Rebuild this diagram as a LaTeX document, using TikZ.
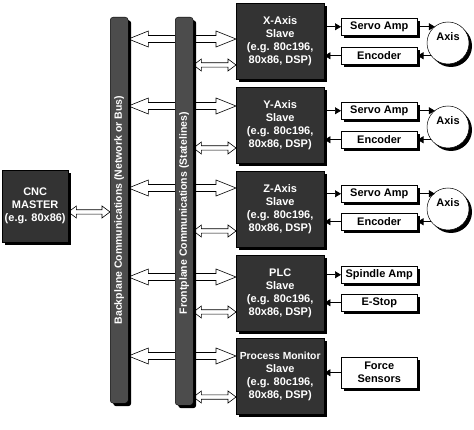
\documentclass[tikz,border=0pt]{standalone}
\usepackage{fontspec}
\setmainfont{Liberation Sans}
\usetikzlibrary{calc,shadows,arrows.meta,backgrounds}
\definecolor{boxgray}{HTML}{333333}
\definecolor{bargray}{HTML}{4C4C4C}
\begin{document}
\begin{tikzpicture}[x=1pt,y=-1pt,
  every node/.style={font=\bfseries\fontsize{11}{13}\selectfont},
  bartext/.style={rotate=90,text=white,font=\bfseries\fontsize{10.5}{12}\selectfont},
  shad/.style={general shadow={fill=black,shadow xshift=3pt,shadow yshift=-3pt}},
  darkbox/.style={shad,rectangle,fill=boxgray,draw=black,line width=0.4pt,text=white,align=center,inner sep=0pt,anchor=north west,minimum width=88pt,minimum height=76pt},
  bar/.style={shad,rectangle,fill=bargray,draw=black,line width=0.4pt,inner sep=0pt,anchor=north west,minimum width=18pt,rounded corners=3pt},
  wbox/.style={shad,rectangle,fill=white,draw=black,line width=0.5pt,align=center,inner sep=0pt,anchor=north west,minimum width=76pt,minimum height=17pt},
  axisc/.style={shad,circle,fill=white,draw=black,line width=0.5pt,minimum size=42pt,inner sep=0pt},
  sig/.style={draw=black,line width=0.6pt,-{Triangle[length=6pt,width=7pt]}},
  bigarrow/.style={draw=black,fill=white,line width=0.6pt,to path={let \p1=(\tikztostart),\p2=(\tikztotarget) in
    (\x1,\y1) -- (\x1+20,\y1+8) -- (\x1+20,\y1+3.5) -- (\x2-20,\y1+3.5) -- (\x2-20,\y1+8) -- (\x2,\y1) -- (\x2-20,\y1-8) -- (\x2-20,\y1-3.5) -- (\x1+20,\y1-3.5) -- (\x1+20,\y1-8) -- cycle}},
  smallarrow/.style={draw=black,fill=white,line width=0.6pt,to path={let \p1=(\tikztostart),\p2=(\tikztotarget) in
    (\x1,\y1) -- (\x1+8,\y1+6) -- (\x1+8,\y1+2.2) -- (\x2-8,\y1+2.2) -- (\x2-8,\y1+6) -- (\x2,\y1) -- (\x2-8,\y1-6) -- (\x2-8,\y1-2.2) -- (\x1+8,\y1-2.2) -- (\x1+8,\y1-6) -- cycle}}
]
\useasboundingbox (0,0) rectangle (474,430);

% bars
\node[bar,minimum height=386pt] (bp) at (110,17) {};
\node[bar,minimum height=388pt] (fp) at (175,17) {};
\node[bartext] (bpt) at (bp.center) {Backplane Communications (Network or Bus)};
\node[bartext] (fpt) at ([yshift=-2pt]fp.center) {Frontplane Communications (Statelines)};

% master
\node[darkbox,minimum width=66pt,minimum height=72pt] (cnc) at (2,170) {CNC\\MASTER\\(e.g. 80x86)};

% slaves
\node[darkbox] (X) at (236,3) {X-Axis\\Slave\\(e.g. 80c196,\\80x86, DSP)};
\node[darkbox] (Y) at (236,87) {Y-Axis\\Slave\\(e.g. 80c196,\\80x86, DSP)};
\node[darkbox] (Z) at (236,171) {Z-Axis\\Slave\\(e.g. 80c196,\\80x86, DSP)};
\node[darkbox] (plc) at (236,255) {PLC\\Slave\\(e.g. 80c196,\\80x86, DSP)};
\node[darkbox] (pm) at (236,338) {{\fontsize{10.3}{13}\selectfont Process Monitor}\\Slave\\(e.g. 80c196,\\80x86, DSP)};

% right boxes
\node[wbox] (xs) at (341,18) {Servo Amp};
\node[wbox] (xe) at (341,47) {Encoder};
\node[wbox] (ys) at (341,102) {Servo Amp};
\node[wbox] (ye) at (341,131) {Encoder};
\node[wbox] (zs) at (341,185) {Servo Amp};
\node[wbox] (ze) at (341,213) {Encoder};
\node[wbox] (sp) at (341,266) {Spindle Amp};
\node[wbox] (es) at (341,294) {E-Stop};
\node[wbox,minimum height=31pt] (fs) at (341,357) {Force\\Sensors};

% axes
\node[axisc] (xa) at (448,43) {};
\node (xat) at ([yshift=6pt]xa.center) {Axis};
\node[axisc] (ya) at (448,127) {};
\node (yat) at ([yshift=6pt]ya.center) {Axis};
\node[axisc] (za) at (448,209) {};
\node (zat) at ([yshift=6pt]za.center) {Axis};

% signal connectors
\foreach \s/\sv/\en/\ax in {X/xs/xe/xa, Y/ys/ye/ya, Z/zs/ze/za}{
  \draw[sig] (\s.east |- \sv.west) -- (\sv.west);
  \draw[sig] (\sv.east) -- (\sv.east -| \ax.128);
  \draw[sig] (\ax.-145 |- \en.east) -- (\en.east);
  \draw[sig] (\en.west) -- (\en.west -| \s.east);
}
\draw[sig] (plc.east |- sp.west) -- (sp.west);
\draw[sig] (es.west) -- (es.west -| plc.east);
\draw[sig] (fs.west) -- (fs.west -| pm.east);

% communication arrows
\coordinate (c0) at (0,212);
\coordinate (b1) at (0,39);
\coordinate (b2) at (0,106);
\coordinate (b3) at (0,188);
\coordinate (b4) at (0,277);
\coordinate (b5) at (0,356);
\coordinate (s1) at (0,65);
\coordinate (s2) at (0,148);
\coordinate (s3) at (0,231);
\coordinate (s4) at (0,312);
\coordinate (s5) at (0,397);
\begin{pgfonlayer}{background}
\draw[smallarrow] (cnc.east |- c0) to (bp.west |- c0);
\draw[bigarrow] (bp.east |- b1) to (X.west |- b1);
\draw[bigarrow] (bp.east |- b2) to (Y.west |- b2);
\draw[bigarrow] (bp.east |- b3) to (Z.west |- b3);
\draw[bigarrow] (bp.east |- b4) to (plc.west |- b4);
\draw[bigarrow] (bp.east |- b5) to (pm.west |- b5);
\draw[smallarrow] (fp.east |- s1) to (X.west |- s1);
\draw[smallarrow] (fp.east |- s2) to (Y.west |- s2);
\draw[smallarrow] (fp.east |- s3) to (Z.west |- s3);
\draw[smallarrow] (fp.east |- s4) to (plc.west |- s4);
\draw[smallarrow] (fp.east |- s5) to (pm.west |- s5);
\end{pgfonlayer}
\end{tikzpicture}
\end{document}
